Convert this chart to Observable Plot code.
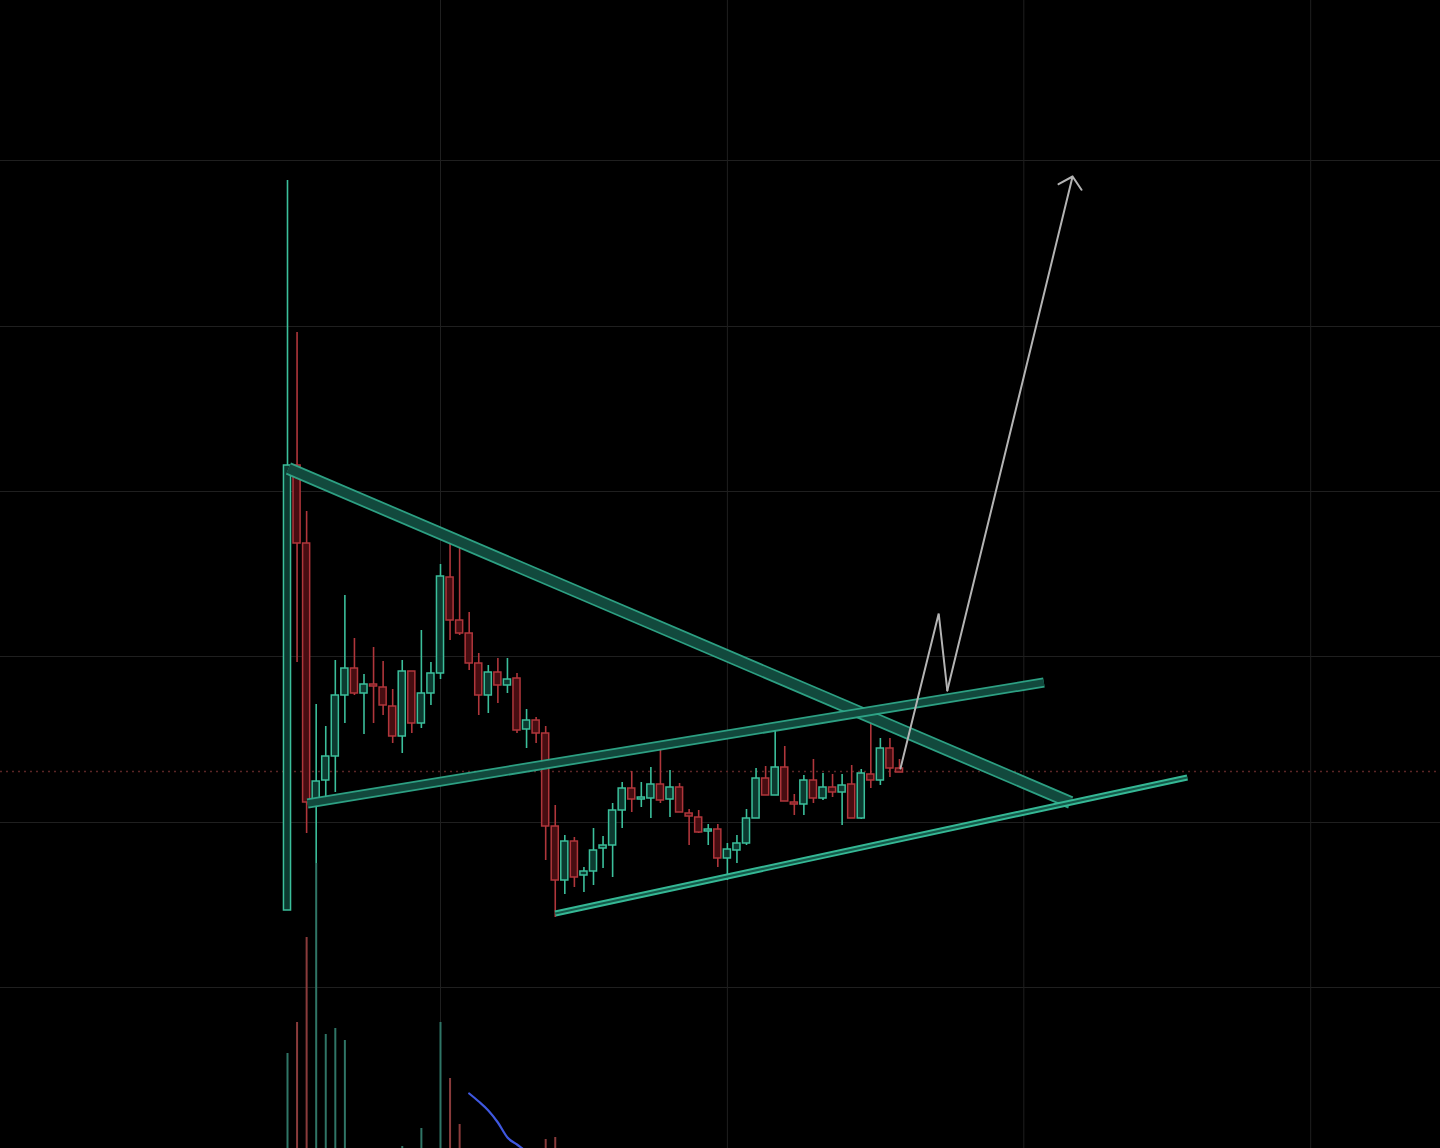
<!DOCTYPE html>
<html>
<head>
<meta charset="utf-8">
<script src="https://cdn.jsdelivr.net/npm/d3@7"></script>
<script src="https://cdn.jsdelivr.net/npm/@observablehq/plot@0.6"></script>
<style>
  html, body { margin: 0; padding: 0; background: #000; overflow: hidden; }
  #wrap { position: relative; width: 1440px; height: 1148px; background: #000; }
  #wrap svg { position: absolute; left: 0; top: 0; }
</style>
</head>
<body>
<div id="wrap"></div>
<script>
// ---- data (price units, candle index) ----
const openP  = [238,683,605,346,368,392,453,480,455,464, 461,442,412,477,425,455,475,571,528,515, 485,453,476,463,470,419,428,415,322,268, 307,273,277,300,303,338,360,349,350,364, 349,361,335,331,317,319,290,298,305,330, 370,353,381,346,344,368,350,361,356,364, 330,374,368,400,380];
const closeP = [683,605,346,367,392,453,480,455,464,462, 443,412,477,425,455,475,572,528,515,485, 453,476,463,469,418,428,415,322,268,307, 271,277,298,303,338,360,349,351,364,348, 361,336,332,316,319,290,299,305,330,370, 353,381,347,344,368,350,361,356,363,330, 375,368,400,380,376];
const highP  = [968,816,637,444,422,488,553,510,474,501, 487,459,488,477,518,486,584,610,608,536, 495,483,490,490,475,439,431,422,343,313, 311,281,320,312,345,366,377,366,381,406, 378,365,339,338,324,324,305,313,339,380, 382,418,402,354,373,389,375,374,374,383, 379,436,410,410,389];
const lowP   = [238,486,315,285,349,356,425,453,414,425, 433,405,395,415,420,443,469,508,513,478, 433,435,445,455,415,400,405,288,231,254, 261,256,263,280,271,320,336,341,330,345, 331,336,303,315,303,281,268,285,303,330, 353,353,347,333,333,345,348,351,323,330, 329,360,363,371,376];
const volume = [147,178,263,337,166,172,160,40,36,30, 34,44,54,42,72,46,178,122,76,44, 40,34,30,28,38,26,32,61,63,45, 38,30,34,26,40,36,30,22,28,36, 26,30,24,28,20,32,34,26,30,44, 32,40,34,22,26,28,20,18,24,30, 34,38,30,26,14];
const maStart = 19;
const volumeMA = [107,99,90,78,63,56,49,44,41,40,38,36];

// grid ticks
const gridPrices = [161, 326, 492, 657, 822, 988];
const gridIndex = [16, 46, 77, 107];
const lastPriceLine = 377;

// drawings: [index, price]
const upperBand = [[0.1, 680], [81.9, 346]];
const middleBand = [[2.1, 345], [79.1, 466]];
const lowerBand = [[28.0, 235], [94.1, 371]];
const zigzag = [[64.1, 380], [68.1, 535], [69.0, 458]];
const arrowSeg = [{x1: 69.0, y1: 458, x2: 82.1, y2: 972}];

// ---- build ----
const candles = openP.map((o, i) => ({
  i, open: o, close: closeP[i], high: highP[i], low: lowP[i], vol: volume[i],
  up: closeP[i] >= o
}));
const ma = volumeMA.map((v, k) => ({i: maStart + k, v}));
const toObj = arr => arr.map(([x, y]) => ({x, y}));

const W = 1440, H = 1148;
const xDomain = [-287 / 9.5625, (W - 287) / 9.5625];

const upStroke = "#3bbf9b", upFill = "#0c3a30";
const dnStroke = "#b0363b", dnFill = "#470d11";
const band = {x: "x", y: "y", strokeLinecap: "butt"};

const main = Plot.plot({
  width: W, height: H, margin: 0,
  style: {background: "#000", overflow: "hidden"},
  x: {domain: xDomain, axis: null},
  y: {domain: [0, H], axis: null},
  marks: [
    Plot.ruleY(gridPrices, {stroke: "#1f1f1f", strokeWidth: 1}),
    Plot.ruleX(gridIndex, {stroke: "#1f1f1f", strokeWidth: 1}),
    Plot.ruleY([lastPriceLine], {stroke: "#5c2626", strokeWidth: 1.5, strokeDasharray: "2,4"}),
    // wicks
    Plot.ruleX(candles, {x: "i", y1: "low", y2: "high", stroke: d => d.up ? upStroke : dnStroke, strokeWidth: 1.6}),
    // bodies
    Plot.rect(candles, {
      x1: d => d.i - 0.37, x2: d => d.i + 0.37,
      y1: "open", y2: "close",
      fill: d => d.up ? upFill : dnFill,
      stroke: d => d.up ? upStroke : dnStroke,
      strokeWidth: 1.5
    }),
    // upper descending band
    Plot.line(toObj(upperBand), {...band, stroke: "#2fa98a", strokeWidth: 13, strokeOpacity: 0.95}),
    Plot.line(toObj(upperBand), {...band, stroke: "#12493d", strokeWidth: 9.5}),
    // middle ascending band
    Plot.line(toObj(middleBand), {...band, stroke: "#2fa98a", strokeWidth: 10, strokeOpacity: 0.95}),
    Plot.line(toObj(middleBand), {...band, stroke: "#12493d", strokeWidth: 6.5}),
    // lower ascending line
    Plot.line(toObj(lowerBand), {...band, stroke: "#35b895", strokeWidth: 6}),
    Plot.line(toObj(lowerBand), {...band, stroke: "#155a4a", strokeWidth: 2.2}),
    // projected path
    Plot.line(toObj(zigzag), {x: "x", y: "y", stroke: "#b4b4b4", strokeWidth: 2, strokeLinejoin: "miter"}),
    Plot.arrow(arrowSeg, {x1: "x1", y1: "y1", x2: "x2", y2: "y2", stroke: "#b4b4b4", strokeWidth: 2, headAngle: 95, headLength: 12})
  ]
});

const vol = Plot.plot({
  width: W, height: H, margin: 0,
  style: {background: "transparent", overflow: "hidden"},
  x: {domain: xDomain, axis: null},
  y: {domain: [0, 400], range: [1200, 800], axis: null},
  marks: [
    Plot.ruleX(candles, {x: "i", y1: 0, y2: "vol", stroke: d => d.up ? "#2f7566" : "#8a3b3b", strokeWidth: 2}),
    Plot.line(ma, {x: "i", y: "v", stroke: "#3f58e0", strokeWidth: 2.2, curve: "monotone-x"})
  ]
});

const wrap = document.getElementById("wrap");
wrap.appendChild(main);
wrap.appendChild(vol);
</script>
</body>
</html>
